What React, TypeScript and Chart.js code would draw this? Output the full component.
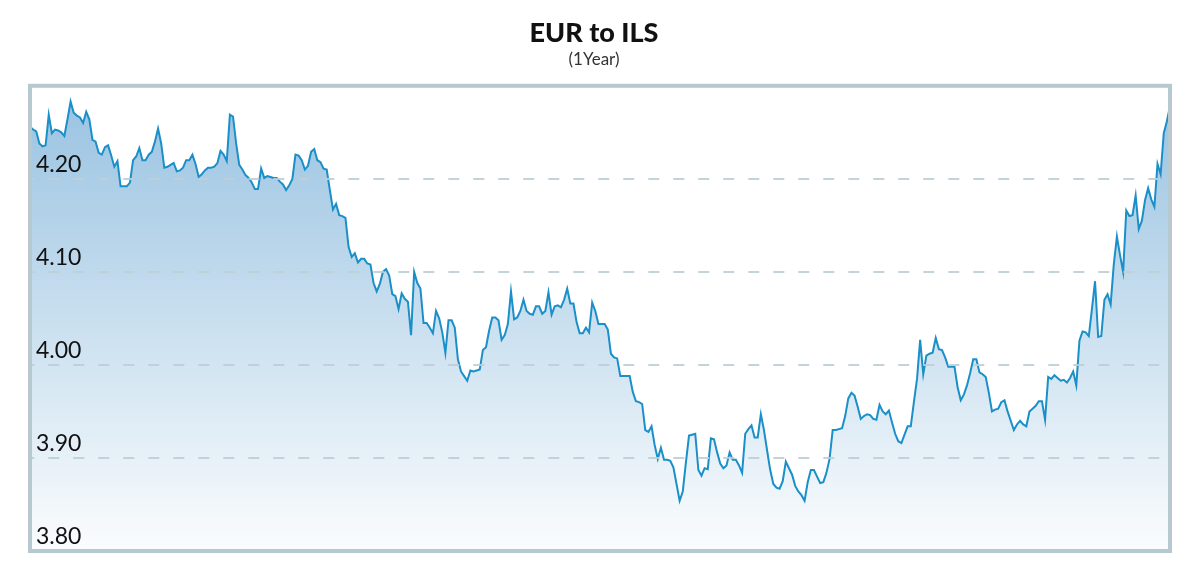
import React, { useEffect, useRef } from "react";
import { Chart, registerables } from "chart.js";

Chart.register(...registerables);

const TITLE = "EUR to ILS";
const SUBTITLE = "(1Year)";
const Y_TICKS = [3.8, 3.9, 4.0, 4.1, 4.2];

const rates = [
  4.256, 4.253, 4.251, 4.238, 4.235, 4.236, 4.269, 4.249, 4.253, 4.252,
  4.250, 4.246, 4.264, 4.283, 4.271, 4.268, 4.266, 4.260, 4.272, 4.264,
  4.242, 4.240, 4.228, 4.226, 4.234, 4.236, 4.225, 4.213, 4.219, 4.192,
  4.192, 4.192, 4.196, 4.220, 4.224, 4.233, 4.220, 4.220, 4.226, 4.229,
  4.240, 4.254, 4.238, 4.212, 4.213, 4.215, 4.217, 4.208, 4.209, 4.212,
  4.220, 4.220, 4.226, 4.216, 4.202, 4.205, 4.209, 4.212, 4.212, 4.213,
  4.217, 4.230, 4.226, 4.219, 4.269, 4.267, 4.238, 4.215, 4.210, 4.204,
  4.201, 4.196, 4.189, 4.189, 4.211, 4.201, 4.203, 4.202, 4.201, 4.201,
  4.197, 4.194, 4.188, 4.193, 4.200, 4.226, 4.225, 4.220, 4.210, 4.214,
  4.229, 4.232, 4.220, 4.218, 4.211, 4.210, 4.188, 4.167, 4.173, 4.161,
  4.160, 4.158, 4.127, 4.116, 4.120, 4.110, 4.114, 4.114, 4.109, 4.108,
  4.088, 4.079, 4.087, 4.100, 4.103, 4.096, 4.076, 4.074, 4.060, 4.077,
  4.071, 4.068, 4.032, 4.100, 4.088, 4.082, 4.045, 4.045, 4.040, 4.034,
  4.058, 4.050, 4.035, 4.013, 4.048, 4.048, 4.040, 4.006, 3.993, 3.988,
  3.983, 3.994, 3.993, 3.994, 3.995, 4.016, 4.019, 4.037, 4.051, 4.051,
  4.048, 4.027, 4.032, 4.044, 4.079, 4.049, 4.051, 4.058, 4.070, 4.058,
  4.055, 4.054, 4.063, 4.063, 4.055, 4.058, 4.078, 4.054, 4.063, 4.064,
  4.062, 4.070, 4.082, 4.066, 4.066, 4.046, 4.034, 4.034, 4.040, 4.035,
  4.067, 4.058, 4.044, 4.044, 4.044, 4.038, 4.012, 4.008, 4.007, 3.988,
  3.988, 3.988, 3.988, 3.971, 3.961, 3.960, 3.958, 3.930, 3.928, 3.934,
  3.914, 3.899, 3.911, 3.898, 3.898, 3.897, 3.890, 3.872, 3.854, 3.864,
  3.895, 3.924, 3.925, 3.926, 3.887, 3.881, 3.889, 3.888, 3.921, 3.920,
  3.906, 3.894, 3.889, 3.892, 3.906, 3.898, 3.898, 3.892, 3.884, 3.926,
  3.931, 3.935, 3.922, 3.922, 3.947, 3.930, 3.908, 3.887, 3.872, 3.868,
  3.867, 3.875, 3.896, 3.889, 3.882, 3.870, 3.864, 3.860, 3.854, 3.874,
  3.887, 3.887, 3.880, 3.873, 3.874, 3.884, 3.899, 3.930, 3.930, 3.931,
  3.932, 3.945, 3.964, 3.970, 3.967, 3.955, 3.942, 3.945, 3.947, 3.946,
  3.942, 3.941, 3.957, 3.950, 3.947, 3.951, 3.938, 3.926, 3.918, 3.916,
  3.925, 3.934, 3.934, 3.960, 3.985, 4.027, 3.990, 4.010, 4.012, 4.013,
  4.029, 4.017, 4.016, 4.008, 3.998, 3.998, 3.998, 3.976, 3.962, 3.968,
  3.978, 3.991, 4.006, 4.006, 3.992, 3.990, 3.987, 3.970, 3.950, 3.952,
  3.953, 3.960, 3.962, 3.950, 3.940, 3.930, 3.936, 3.940, 3.936, 3.934,
  3.950, 3.953, 3.956, 3.961, 3.961, 3.941, 3.987, 3.985, 3.989, 3.986,
  3.983, 3.984, 3.981, 3.986, 3.993, 3.978, 4.026, 4.036, 4.035, 4.031,
  4.060, 4.090, 4.030, 4.031, 4.070, 4.076, 4.065, 4.108, 4.138, 4.118,
  4.100, 4.166, 4.160, 4.161, 4.182, 4.146, 4.155, 4.177, 4.190, 4.178,
  4.170, 4.216, 4.205, 4.249, 4.262, 4.278,
];

const days = rates.map((_, i) => `Day ${i + 1}`);

const framePlugin = {
  id: "frame",
  afterDraw(chart: any) {
    const { ctx, chartArea: a } = chart;
    ctx.save();
    ctx.strokeStyle = "#b6c8d0";
    ctx.lineWidth = 4;
    ctx.strokeRect(a.left, a.top, a.right - a.left, a.bottom - a.top);
    ctx.restore();
  },
};

export default function App() {
  const ref = useRef<HTMLCanvasElement | null>(null);

  useEffect(() => {
    if (!ref.current) return;
    const chart = new Chart(ref.current, {
      type: "line",
      data: {
        labels: days,
        datasets: [
          {
            data: rates,
            borderColor: "#1a8fc8",
            borderWidth: 2,
            pointRadius: 0,
            pointHoverRadius: 0,
            tension: 0,
            fill: "start",
            backgroundColor: (c: any) => {
              const area = c.chart.chartArea;
              if (!area) return "rgba(120,175,215,0.4)";
              const g = c.chart.ctx.createLinearGradient(0, area.top, 0, area.bottom);
              g.addColorStop(0, "rgba(115,172,214,0.74)");
              g.addColorStop(1, "rgba(115,172,214,0.03)");
              return g;
            },
          },
        ],
      },
      options: {
        animation: false,
        responsive: false,
        devicePixelRatio: 1,
        layout: { padding: { left: 18, right: 30, top: 0, bottom: 29 } },
        plugins: {
          legend: { display: false },
          tooltip: { enabled: false },
          title: {
            display: true,
            text: TITLE,
            color: "#111111",
            font: { family: "Lato", size: 27, weight: 900 as any },
            padding: { top: 17, bottom: 0 },
          },
          subtitle: {
            display: true,
            text: SUBTITLE,
            color: "#333333",
            font: { family: "Lato", size: 17 },
            padding: { top: 0, bottom: 16 },
          },
        },
        scales: {
          x: { display: false },
          y: {
            min: 3.8,
            max: 4.3,
            afterBuildTicks: (scale: any) => {
              scale.ticks = Y_TICKS.map((v) => ({ value: v }));
            },
            grid: {
              color: "rgba(190,206,214,0.9)",
              lineWidth: 2,
              drawTicks: false,
              z: 1,
            },
            border: { display: false, dash: [11, 14], dashOffset: 6.7 },
            ticks: {
              mirror: true,
              padding: 6,
              labelOffset: -14,
              color: "#111111",
              font: { family: "Lato", size: 23 },
              z: 1,
              callback: (v: any) => Number(v).toFixed(2),
            },
          },
        },
      },
      plugins: [framePlugin],
    });
    return () => chart.destroy();
  }, []);

  return (
    <div style={{ position: "absolute", left: 0, top: 0, width: 1200, height: 580, background: "#fff" }}>
      <canvas ref={ref} width={1200} height={580} style={{ display: "block" }} />
    </div>
  );
}
